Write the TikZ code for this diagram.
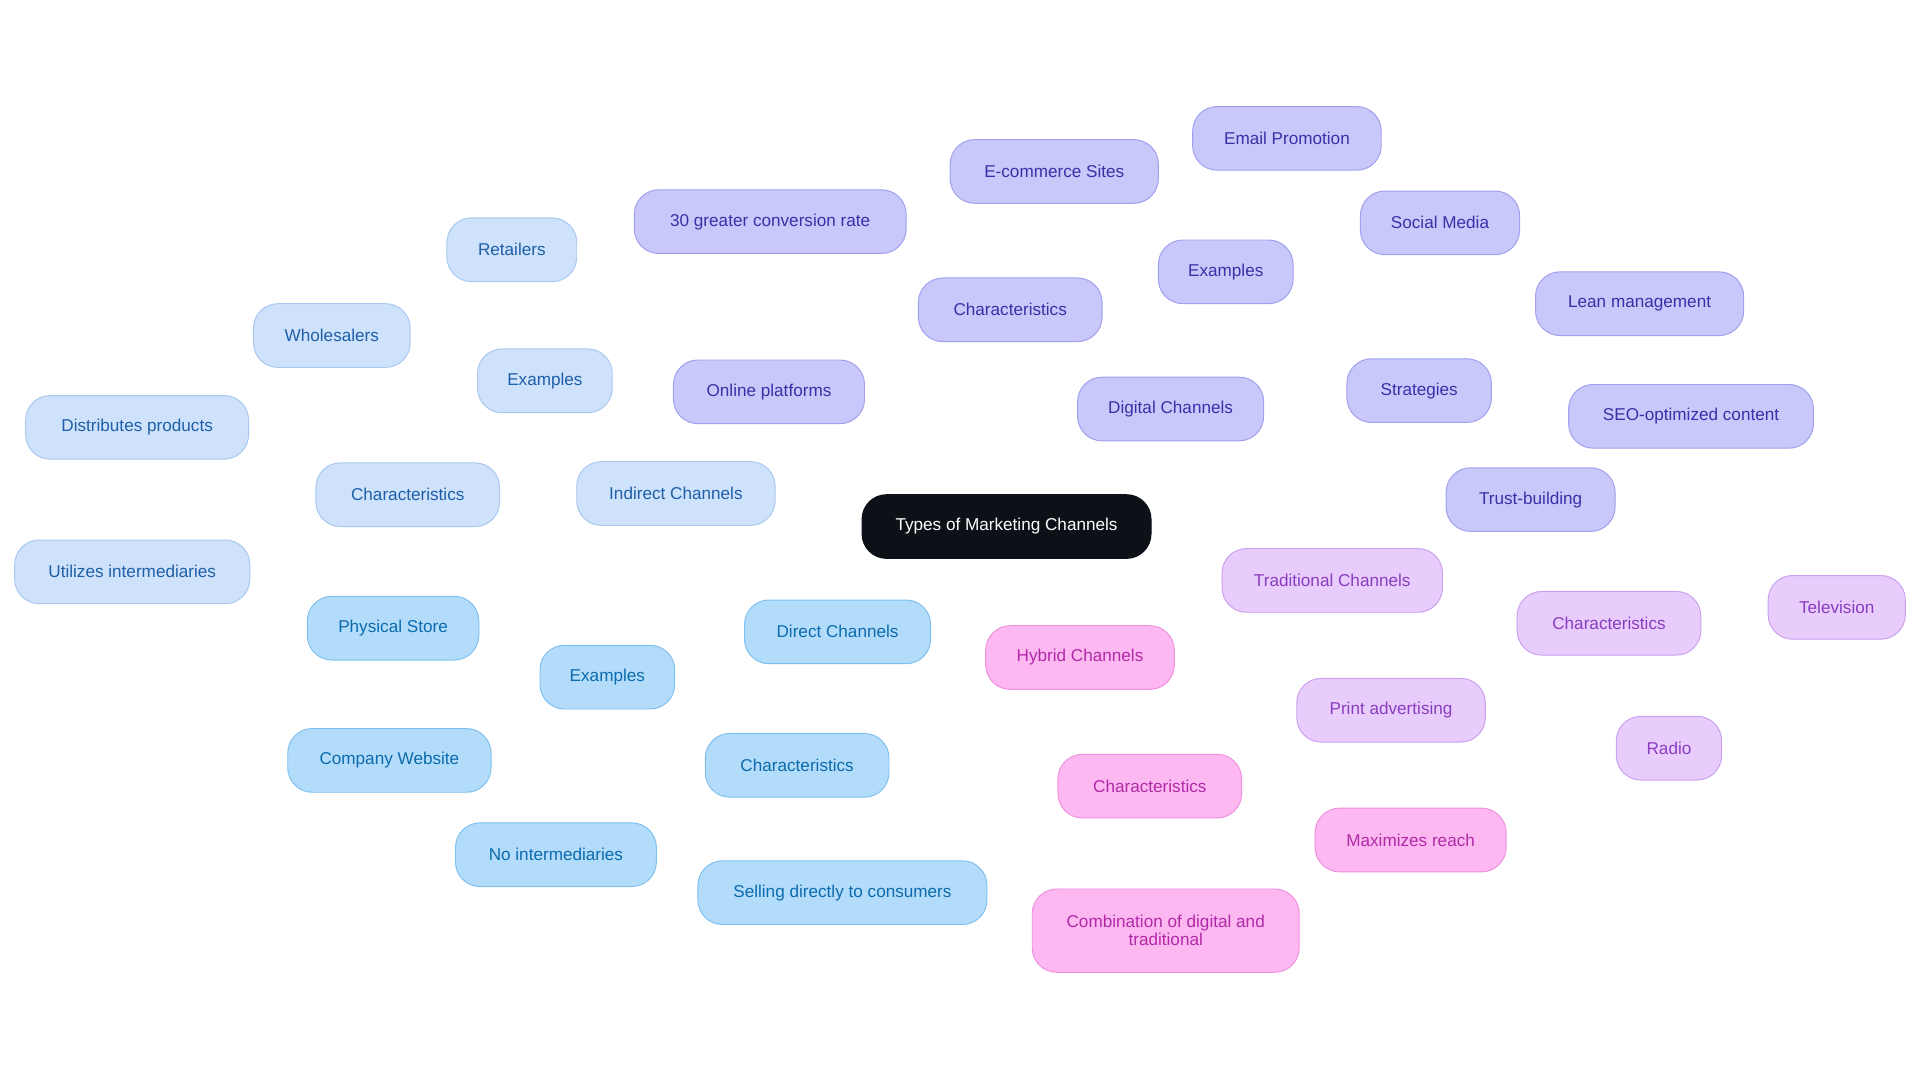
\documentclass[tikz,border=0pt]{standalone}
\usepackage{fontspec}
\setmainfont{Liberation Sans}
\usetikzlibrary{backgrounds}
\definecolor{rootc}{HTML}{0D1117}
\definecolor{ifill}{HTML}{CFE2FB}\definecolor{idraw}{HTML}{A8C8F0}\definecolor{itext}{HTML}{1E5FA8}\definecolor{iline}{HTML}{90B8E8}
\definecolor{dfill}{HTML}{B3DCFB}\definecolor{ddraw}{HTML}{7FC0EE}\definecolor{dtext}{HTML}{0B6BAD}\definecolor{dline}{HTML}{6CB4E0}
\definecolor{gfill}{HTML}{C8C8FA}\definecolor{gdraw}{HTML}{A0A0EE}\definecolor{gtext}{HTML}{3C2FA8}\definecolor{gline}{HTML}{9A98E0}
\definecolor{tfill}{HTML}{E8CDFC}\definecolor{tdraw}{HTML}{CAA0EF}\definecolor{ttext}{HTML}{8A3CC0}\definecolor{tline}{HTML}{C890E0}
\definecolor{hfill}{HTML}{FDB8F2}\definecolor{hdraw}{HTML}{F090E0}\definecolor{htext}{HTML}{B02AA8}\definecolor{hline}{HTML}{E890D8}
\tikzset{
 box/.style={rounded corners=20pt,minimum height=52pt,inner sep=0pt,font=\fontsize{14}{15}\selectfont,align=center,line width=0.8pt},
 rootbox/.style={box,fill=rootc,draw=rootc,text=white},
 ibox/.style={box,fill=ifill,draw=idraw,text=itext},
 dbox/.style={box,fill=dfill,draw=ddraw,text=dtext},
 gbox/.style={box,fill=gfill,draw=gdraw,text=gtext},
 tbox/.style={box,fill=tfill,draw=tdraw,text=ttext},
 hbox/.style={box,fill=hfill,draw=hdraw,text=htext},
 il/.style={draw=iline,line width=1.5pt},
 dl/.style={draw=dline,line width=1.5pt},
 gl/.style={draw=gline,line width=1.5pt},
 tl/.style={draw=tline,line width=1.5pt},
 hl/.style={draw=hline,line width=1.5pt},
}
\begin{document}
\begin{tikzpicture}[x=1pt,y=-1pt]
\useasboundingbox[fill=white] (0,0) rectangle (1568,884);
\node[rootbox,minimum width=236pt] (root) at (822,430) {Types of Marketing Channels};
% indirect
\node[ibox,minimum width=162pt] (ind) at (552,403) {Indirect Channels};
\node[ibox,minimum width=110pt] (iex) at (445,311) {Examples};
\node[ibox,minimum width=106pt] (ret) at (418,204) {Retailers};
\node[ibox,minimum width=128pt] (who) at (271,274) {Wholesalers};
\node[ibox,minimum width=150pt] (ich) at (333,404) {Characteristics};
\node[ibox,minimum width=182pt] (dis) at (112,349) {Distributes products};
\node[ibox,minimum width=192pt] (uti) at (108,467) {Utilizes intermediaries};
% direct
\node[dbox,minimum width=152pt] (dir) at (684,516) {Direct Channels};
\node[dbox,minimum width=110pt] (dex) at (496,553) {Examples};
\node[dbox,minimum width=140pt] (phy) at (321,513) {Physical Store};
\node[dbox,minimum width=166pt] (com) at (318,621) {Company Website};
\node[dbox,minimum width=150pt] (dch) at (651,625) {Characteristics};
\node[dbox,minimum width=164pt] (noi) at (454,698) {No intermediaries};
\node[dbox,minimum width=236pt] (sel) at (688,729) {Selling directly to consumers};
% digital
\node[gbox,minimum width=152pt] (dig) at (956,334) {Digital Channels};
\node[gbox,minimum width=150pt] (gch) at (825,253) {Characteristics};
\node[gbox,minimum width=222pt] (thi) at (629,181) {30 greater conversion rate};
\node[gbox,minimum width=156pt] (onl) at (628,320) {Online platforms};
\node[gbox,minimum width=110pt] (gex) at (1001,222) {Examples};
\node[gbox,minimum width=170pt] (eco) at (861,140) {E-commerce Sites};
\node[gbox,minimum width=154pt] (ema) at (1051,113) {Email Promotion};
\node[gbox,minimum width=130pt] (soc) at (1176,182) {Social Media};
\node[gbox,minimum width=118pt] (str) at (1159,319) {Strategies};
\node[gbox,minimum width=170pt] (lea) at (1339,248) {Lean management};
\node[gbox,minimum width=200pt] (seo) at (1381,340) {SEO-optimized content};
\node[gbox,minimum width=138pt] (tru) at (1250,408) {Trust-building};
% traditional
\node[tbox,minimum width=180pt] (tra) at (1088,474) {Traditional Channels};
\node[tbox,minimum width=150pt] (tch) at (1314,509) {Characteristics};
\node[tbox,minimum width=112pt] (tel) at (1500,496) {Television};
\node[tbox,minimum width=154pt] (pri) at (1136,580) {Print advertising};
\node[tbox,minimum width=86pt] (rad) at (1363,611) {Radio};
% hybrid
\node[hbox,minimum width=154pt] (hyb) at (882,537) {Hybrid Channels};
\node[hbox,minimum width=150pt] (hch) at (939,642) {Characteristics};
\node[hbox,minimum width=156pt] (max) at (1152,686) {Maximizes reach};
\node[hbox,minimum width=218pt,minimum height=68pt] (cmb) at (952,760) {Combination of digital and\\traditional};
\begin{scope}[on background layer]
\draw[il] (root.center)--(ind.center) (ind.center)--(iex.center) (iex.center)--(ret.center) (iex.center)--(who.center)
 (ind.center)--(ich.center) (ich.center)--(dis.center) (ich.center)--(uti.center);
\draw[dl] (root.center)--(dir.center) (dir.center)--(dex.center) (dex.center)--(phy.center) (dex.center)--(com.center)
 (dir.center)--(dch.center) (dch.center)--(noi.center) (dch.center)--(sel.center);
\draw[gl] (root.center)--(dig.center) (dig.center)--(gch.center) (gch.center)--(thi.center) (gch.center)--(onl.center)
 (dig.center)--(gex.center) (gex.center)--(eco.center) (gex.center)--(ema.center) (gex.center)--(soc.center)
 (dig.center)--(str.center) (str.center)--(lea.center) (str.center)--(seo.center) (str.center)--(tru.center);
\draw[tl] (root.center)--(tra.center) (tra.center)--(tch.center) (tch.center)--(tel.center) (tch.center)--(pri.center) (tch.center)--(rad.center);
\draw[hl] (root.center)--(hyb.center) (hyb.center)--(hch.center) (hch.center)--(max.center) (hch.center)--(cmb.center);
\end{scope}
\end{tikzpicture}
\end{document}
